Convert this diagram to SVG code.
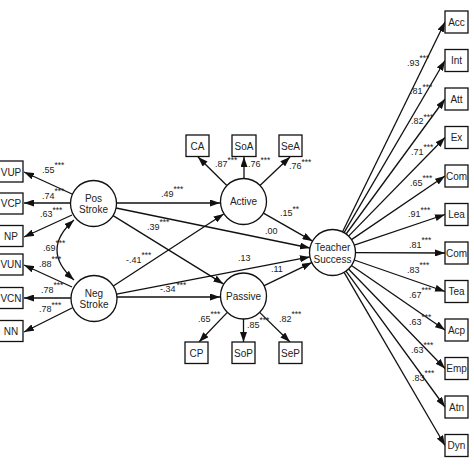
<svg xmlns="http://www.w3.org/2000/svg" width="474" height="474" viewBox="0 0 474 474">
<style>
.bx{fill:#fff;stroke:#111;stroke-width:1.3}
.nd{fill:#fff;stroke:#111;stroke-width:1.3}
.t{font-family:"Liberation Sans",Arial,sans-serif;font-size:10px;fill:#222;text-anchor:middle}
.c{font-family:"Liberation Sans",Arial,sans-serif;font-size:9px;fill:#222}
.s{font-size:8.5px}
.ln{stroke:#111;stroke-width:1.3;fill:none;marker-end:url(#ah)}
</style>
<defs>
<marker id="ah" viewBox="0 0 10 7" refX="10" refY="3.5" markerWidth="10" markerHeight="7" markerUnits="userSpaceOnUse" orient="auto-start-reverse"><path d="M0,0L10,3.5L0,7z" fill="#111"/></marker>
</defs>
<rect width="474" height="474" fill="#fff"/>
<g id="connectors">
<line class="ln" x1="72" y1="194" x2="24" y2="172"/>
<line class="ln" x1="70.5" y1="203" x2="24" y2="203"/>
<line class="ln" x1="72" y1="215" x2="24" y2="237"/>
<line class="ln" x1="72" y1="287" x2="24" y2="265"/>
<line class="ln" x1="71" y1="298" x2="24" y2="298"/>
<line class="ln" x1="72" y1="308" x2="24" y2="332"/>
<path class="ln" d="M74,220 Q40,250 74,280" marker-start="url(#ah)"/>
<line class="ln" x1="116.5" y1="203" x2="220" y2="203"/>
<line class="ln" x1="116" y1="208" x2="310" y2="248"/>
<line class="ln" x1="113.1" y1="215.6" x2="223.4" y2="283.9"/>
<line class="ln" x1="113.3" y1="286" x2="223.7" y2="214"/>
<line class="ln" x1="116.6" y1="294.1" x2="309.9" y2="256.9"/>
<line class="ln" x1="117" y1="297" x2="220" y2="297"/>
<line class="ln" x1="263" y1="212.9" x2="312.5" y2="241.1"/>
<line class="ln" x1="263.7" y1="285.9" x2="311.8" y2="262.6"/>
<line class="ln" x1="226.6" y1="185.3" x2="198" y2="157"/>
<line class="ln" x1="244" y1="178.5" x2="244" y2="157"/>
<line class="ln" x1="259.7" y1="185.7" x2="290" y2="157"/>
<line class="ln" x1="227.1" y1="312.6" x2="199" y2="342"/>
<line class="ln" x1="243.5" y1="319" x2="243.5" y2="342"/>
<line class="ln" x1="259.4" y1="312.1" x2="290" y2="342"/>
<line class="ln" x1="342.6" y1="231.8" x2="445" y2="22"/>
<line class="ln" x1="344.1" y1="232.7" x2="445" y2="60.5"/>
<line class="ln" x1="346.1" y1="234" x2="445" y2="99"/>
<line class="ln" x1="348.6" y1="236.1" x2="445" y2="137.5"/>
<line class="ln" x1="351.5" y1="239.6" x2="445" y2="176"/>
<line class="ln" x1="354.3" y1="245.1" x2="445" y2="214.5"/>
<line class="ln" x1="355.5" y1="252.6" x2="445" y2="253"/>
<line class="ln" x1="354.2" y1="260" x2="445" y2="291.5"/>
<line class="ln" x1="351.4" y1="265.5" x2="445" y2="330"/>
<line class="ln" x1="348.5" y1="269" x2="445" y2="368.5"/>
<line class="ln" x1="346" y1="271.1" x2="445" y2="407"/>
<line class="ln" x1="344.1" y1="272.4" x2="445" y2="445.5"/>
</g>
<g id="labels">
<text class="c" x="42" y="173">.55<tspan class="s" x="54.5" y="168">***</tspan></text>
<text class="c" x="42" y="199">.74<tspan class="s" x="54.5" y="194">***</tspan></text>
<text class="c" x="40" y="217">.63<tspan class="s" x="52.5" y="212.5">***</tspan></text>
<text class="c" x="43" y="251">.69<tspan class="s" x="55.5" y="246">***</tspan></text>
<text class="c" x="39" y="267">.88<tspan class="s" x="51.5" y="262">***</tspan></text>
<text class="c" x="41" y="293">.78<tspan class="s" x="53.5" y="288">***</tspan></text>
<text class="c" x="39" y="312">.78<tspan class="s" x="51.5" y="307.5">***</tspan></text>
<text class="c" x="161" y="197">.49<tspan class="s" x="173.5" y="192">***</tspan></text>
<text class="c" x="147" y="230">.39<tspan class="s" x="159.5" y="225">***</tspan></text>
<text class="c" x="126" y="263">-.41<tspan class="s" x="141.5" y="258">***</tspan></text>
<text class="c" x="238" y="261">.13</text>
<text class="c" x="160" y="292">-.34<tspan class="s" x="176.5" y="287.5">***</tspan></text>
<text class="c" x="265" y="234">.00</text>
<text class="c" x="280" y="216">.15<tspan class="s" x="292.5" y="211.5">**</tspan></text>
<text class="c" x="271" y="272">.11</text>
<text class="c" x="215" y="167">.87<tspan class="s" x="227.5" y="162.5">***</tspan></text>
<text class="c" x="248" y="167">.76<tspan class="s" x="260.5" y="162.5">***</tspan></text>
<text class="c" x="289" y="169">.76<tspan class="s" x="301.5" y="165">***</tspan></text>
<text class="c" x="198" y="322">.65<tspan class="s" x="210.5" y="317">***</tspan></text>
<text class="c" x="247" y="328">.85<tspan class="s" x="259.5" y="323">***</tspan></text>
<text class="c" x="279" y="322">.82<tspan class="s" x="291.5" y="317">***</tspan></text>
<text class="c" x="407" y="66">.93<tspan class="s" x="419.5" y="61">***</tspan></text>
<text class="c" x="410" y="94">.81<tspan class="s" x="422.5" y="89.5">***</tspan></text>
<text class="c" x="411" y="124">.82<tspan class="s" x="423.5" y="119.5">***</tspan></text>
<text class="c" x="411" y="155">.71<tspan class="s" x="423.5" y="150">***</tspan></text>
<text class="c" x="410" y="186">.65<tspan class="s" x="422.5" y="181">***</tspan></text>
<text class="c" x="408" y="217">.91<tspan class="s" x="420.5" y="212.5">***</tspan></text>
<text class="c" x="409" y="248">.81<tspan class="s" x="421.5" y="243">***</tspan></text>
<text class="c" x="407" y="273">.83<tspan class="s" x="419.5" y="268">***</tspan></text>
<text class="c" x="409" y="298">.67<tspan class="s" x="421.5" y="293">***</tspan></text>
<text class="c" x="409" y="325">.63<tspan class="s" x="421.5" y="320">***</tspan></text>
<text class="c" x="411" y="353">.63<tspan class="s" x="423.5" y="348">***</tspan></text>
<text class="c" x="412" y="381">.83<tspan class="s" x="424.5" y="375.5">***</tspan></text>
</g>
<g id="pos"><circle class="nd" cx="93.5" cy="203.5" r="23"/><text class="t" x="93.5" y="201.5">Pos</text><text class="t" x="93.5" y="213">Stroke</text></g>
<g id="neg"><circle class="nd" cx="94" cy="298.5" r="23"/><text class="t" x="94" y="296.5">Neg</text><text class="t" x="94" y="308">Stroke</text></g>
<g id="active"><circle class="nd" cx="243.5" cy="201.5" r="23"/><text class="t" x="243.5" y="205">Active</text></g>
<g id="passive"><circle class="nd" cx="243.5" cy="296" r="23"/><text class="t" x="243.5" y="299.5">Passive</text></g>
<g id="teacher"><circle class="nd" cx="332.5" cy="252.5" r="23"/><text class="t" x="332.5" y="250.5">Teacher</text><text class="t" x="332.5" y="262.5">Success</text></g>
<g id="VUP"><rect class="bx" x="-1" y="161" width="24" height="21"/><text class="t" x="11" y="175.5">VUP</text></g>
<g id="VCP"><rect class="bx" x="-1" y="193" width="24" height="21"/><text class="t" x="11" y="207">VCP</text></g>
<g id="NP"><rect class="bx" x="-1" y="225.5" width="24" height="21"/><text class="t" x="11" y="239.5">NP</text></g>
<g id="VUN"><rect class="bx" x="-1" y="254" width="24" height="21"/><text class="t" x="11" y="268">VUN</text></g>
<g id="VCN"><rect class="bx" x="-1" y="287.5" width="24" height="21"/><text class="t" x="11" y="301.5">VCN</text></g>
<g id="NN"><rect class="bx" x="-1" y="320.5" width="24" height="21"/><text class="t" x="11" y="334.5">NN</text></g>
<g id="CA"><rect class="bx" x="186" y="135" width="23" height="21.5"/><text class="t" x="197.5" y="149.5">CA</text></g>
<g id="SoA"><rect class="bx" x="232" y="135" width="24" height="21.5"/><text class="t" x="244" y="149.5">SoA</text></g>
<g id="SeA"><rect class="bx" x="279" y="135" width="23" height="21.5"/><text class="t" x="290.5" y="149.5">SeA</text></g>
<g id="CP"><rect class="bx" x="185" y="342" width="23" height="21.5"/><text class="t" x="196.5" y="356.5">CP</text></g>
<g id="SoP"><rect class="bx" x="232" y="342" width="23" height="21.5"/><text class="t" x="243.5" y="356.5">SoP</text></g>
<g id="SeP"><rect class="bx" x="279" y="342" width="23" height="21.5"/><text class="t" x="290.5" y="356.5">SeP</text></g>
<g id="Acc"><rect class="bx" x="445" y="11" width="23" height="22"/><text class="t" x="456.5" y="25.5">Acc</text></g>
<g id="Int"><rect class="bx" x="445" y="49.5" width="23" height="22"/><text class="t" x="456.5" y="64">Int</text></g>
<g id="Att"><rect class="bx" x="445" y="88" width="23" height="22"/><text class="t" x="456.5" y="102.5">Att</text></g>
<g id="Ex"><rect class="bx" x="445" y="126.5" width="23" height="22"/><text class="t" x="456.5" y="141">Ex</text></g>
<g id="Com1"><rect class="bx" x="445" y="165" width="23" height="22"/><text class="t" x="456.5" y="179.5">Com</text></g>
<g id="Lea"><rect class="bx" x="445" y="203.5" width="23" height="22"/><text class="t" x="456.5" y="218">Lea</text></g>
<g id="Com2"><rect class="bx" x="445" y="242" width="23" height="22"/><text class="t" x="456.5" y="256.5">Com</text></g>
<g id="Tea"><rect class="bx" x="445" y="280.5" width="23" height="22"/><text class="t" x="456.5" y="295">Tea</text></g>
<g id="Acp"><rect class="bx" x="445" y="319" width="23" height="22"/><text class="t" x="456.5" y="333.5">Acp</text></g>
<g id="Emp"><rect class="bx" x="445" y="357.5" width="23" height="22"/><text class="t" x="456.5" y="372">Emp</text></g>
<g id="Atn"><rect class="bx" x="445" y="396" width="23" height="22"/><text class="t" x="456.5" y="410.5">Atn</text></g>
<g id="Dyn"><rect class="bx" x="445" y="434.5" width="23" height="22"/><text class="t" x="456.5" y="449">Dyn</text></g>
</svg>
